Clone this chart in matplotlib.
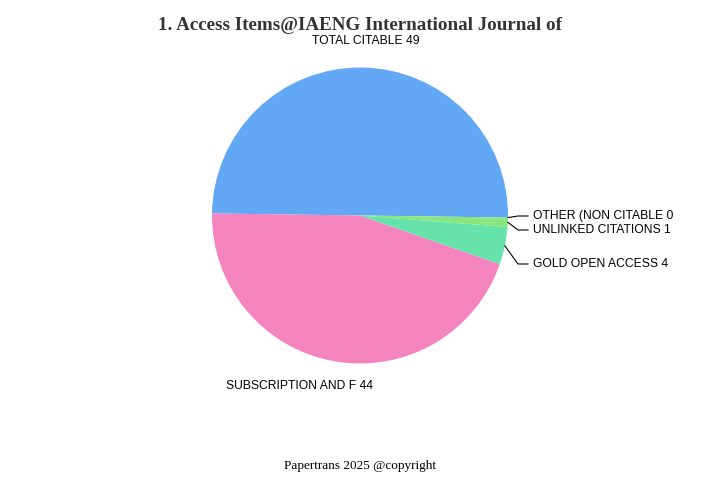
import numpy as np
import matplotlib.pyplot as plt

# slice data
labels = ["TOTAL CITABLE", "SUBSCRIPTION AND F", "GOLD OPEN ACCESS",
          "UNLINKED CITATIONS", "OTHER (NON CITABLE"]
values = [49, 44, 4, 1, 0]
colors = ["#62a8f5", "#f384be", "#66e3ab", "#8ae67e", "#f384be"]

title = "1. Access Items@IAENG International Journal of"
footer = "Papertrans 2025 @copyright"

W, H = 720, 480
cx, cy, r = 360, 215.5, 148  # pixel coords, y from top

fig = plt.figure(figsize=(W / 100, H / 100), dpi=100)
ax = fig.add_axes([0, 0, 1, 1])

def py(y):
    return H - y

wedges, _ = ax.pie(values, colors=colors, center=(cx, py(cy)), radius=r,
                   startangle=-0.8, counterclock=True,
                   wedgeprops=dict(linewidth=0), frame=True)
ax.set_xlim(0, W)
ax.set_ylim(0, H)
ax.set_aspect("equal")
ax.axis("off")

lab_font = dict(family="Liberation Sans", fontsize=8.7, color="#000000")

# top and bottom labels (no visible leader line)
ax.text(366, py(40.5), f"{labels[0]} {values[0]}", ha="center", va="center", **lab_font)
ax.text(226, py(386), f"{labels[1]} {values[1]}", ha="left", va="center", **lab_font)

# right side labels with leader lines
right_y = {2: 264, 3: 230, 4: 216}
for i, ly in right_y.items():
    w = wedges[i]
    mid = np.deg2rad((w.theta1 + w.theta2) / 2)
    sx = cx + r * np.cos(mid)
    sy = py(cy) + r * np.sin(mid)
    ex = cx + r + 10
    ax.plot([sx, ex, ex + 10], [sy, py(ly), py(ly)], color="#000000", lw=0.8)
    ax.text(ex + 15, py(ly), f"{labels[i]} {values[i]}", ha="left", va="center", **lab_font)

fig.text(0.5, 1 - 25.5 / H, title, ha="center", va="center", family="Liberation Serif",
         fontsize=13.7, fontweight="bold", color="#333333")
fig.text(0.5, 1 - 466 / H, footer, ha="center", va="center", family="Liberation Serif",
         fontsize=9.5, color="#000000")

fig.savefig("out.png", dpi=100)
